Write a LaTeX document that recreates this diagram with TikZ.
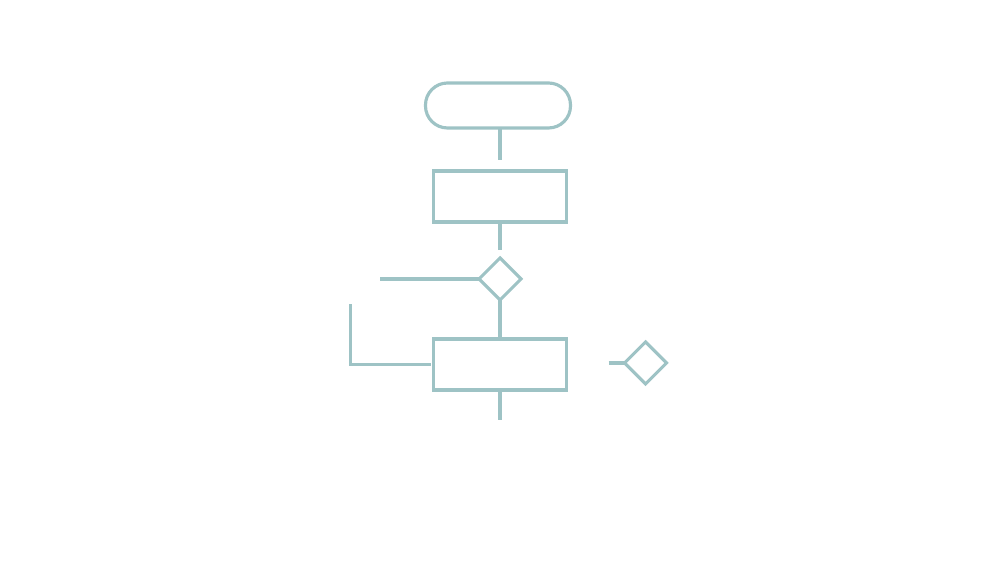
\documentclass[tikz,border=0pt]{standalone}
\usepackage{tikz}
\usepackage{xcolor}
\usetikzlibrary{calc,positioning,shapes}
\definecolor{flowline}{RGB}{158,195,197}

\begin{document}
\begin{tikzpicture}[node distance= 0 and 0]
\def\lw{1.8pt}
\tikzstyle{fc}=[draw=flowline,line width=\lw,inner sep=0pt,outer sep=0pt]
\tikzstyle{fcterm}=[fc,rounded corners=0.44cm,minimum height=0.9cm, minimum width=2.9cm]
\tikzstyle{fcbox}=[fc,minimum height=1.02cm, minimum width=2.66cm]
\tikzstyle{fcdec}=[fc,diamond,aspect=1,minimum size=0.84cm]
\tikzstyle{fcline}=[draw=flowline,line width=\lw]

\useasboundingbox (0,0) rectangle (20,11.24);

\draw node[fcterm] (term) at (9.96,9.13) {}
		   node[fcbox, below =0.86cm of term.south, anchor=north, xshift=0.04cm] (proc) {}
		   node[fcdec, below =0.72cm of proc] (dec) {}
		   node[fcbox, below =0.78cm of dec] (act) {}
		   node[fcdec, right =1.16cm of act, yshift=0.03cm] (side) {}
;

% free ends of the open lines
\coordinate (decout) at ($(dec.west)+(-1.98,0)$);
\coordinate (looptop) at ($(act.west)+(-1.66,1.2)$);
\coordinate (loopcorner) at (looptop |- act.west);
\coordinate (actout) at ($(act.south)+(0,-0.6)$);
\coordinate (sidein) at ($(side.west)+(-0.32,0)$);

\draw[fcline] (term.south -| proc.north) -- ++(0,-0.64);
\draw[fcline,shorten >=0.16cm] (proc) -- (dec);
\draw[fcline] (dec) -- (act);
\draw[fcline] (dec.west) -- (decout);
\draw[fcline,shorten >=0.06cm] (looptop) -- (loopcorner) -- (act.west);
\draw[fcline] (act.south) -- (actout);
\draw[fcline] (sidein) -- (side.west);
\end{tikzpicture}
\end{document}
